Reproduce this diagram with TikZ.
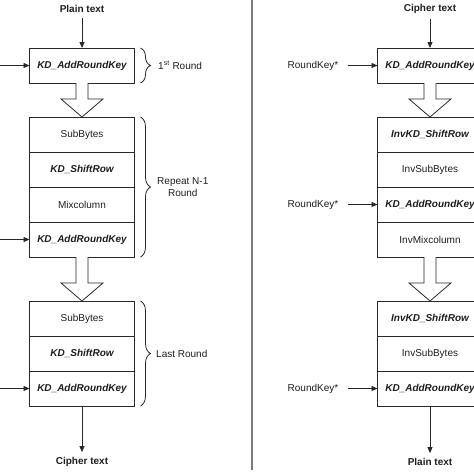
\documentclass[tikz,border=0pt]{standalone}
\usepackage{fontspec}
\setmainfont{Liberation Sans}
\usetikzlibrary{arrows.meta,positioning,calc,decorations.pathreplacing}
\definecolor{aesLine}{RGB}{40,40,40}
\definecolor{aesText}{RGB}{30,30,30}
\definecolor{aesSep}{RGB}{125,125,125}

\begin{document}
\begin{tikzpicture}[x=1pt, y=-1pt,
    stage/.style={rectangle, draw=aesLine, line width=0.8pt, minimum width=105pt,
                  minimum height=35pt, inner sep=0pt, outer sep=0pt,
                  font=\fontsize{10}{12}\selectfont, text=aesText},
    kd/.style={stage, font=\fontsize{10}{12}\selectfont\bfseries\itshape},
    io/.style={font=\fontsize{10}{12}\selectfont\bfseries, text=aesText, inner sep=5pt},
    lbl/.style={font=\fontsize{10}{12}\selectfont, text=aesText, align=center},
    arr/.style={-{Triangle[length=6pt,width=5pt]}, aesLine, line width=0.8pt},
    flow/.style={draw=aesLine, line width=0.8pt, fill=white},
    brc/.style={decorate, decoration={brace, amplitude=10pt}, aesLine, line width=0.8pt}
  ]
  \useasboundingbox (0,0) rectangle (474,474);
  \clip (0,0) rectangle (474,474);

  % encryption
  \node[io] (pt1) at (82,9) {Plain text};
  \node[kd] (a1) at (82,65.5) {KD\_AddRoundKey};
  \node[stage] (a2) at (82,134.5) {SubBytes};
  \node[kd, below=0pt of a2] (a3) {KD\_ShiftRow};
  \node[stage, below=0pt of a3] (a4) {Mixcolumn};
  \node[kd, below=0pt of a4] (a5) {KD\_AddRoundKey};
  \node[stage] (a6) at (82,318.5) {SubBytes};
  \node[kd, below=0pt of a6] (a7) {KD\_ShiftRow};
  \node[kd, below=0pt of a7] (a8) {KD\_AddRoundKey};
  \node[io] (ct1) at (82,462) {Cipher text};

  \coordinate (k1) at (0,65.5);
  \coordinate (k2) at (0,239.5);
  \coordinate (k3) at (0,388.5);
  \draw[arr] (pt1) -- (a1);
  \draw[arr] (k1) -- (a1.west);
  \draw[arr] (k2) -- (a5.west);
  \draw[arr] (k3) -- (a8.west);
  \draw[arr] (a8) -- (ct1);

  \draw[flow] ($(a1.south)+(-6,0)$) -- ($(a2.north)+(-6,-18)$) -- ++(-15,0) -- (a2.north)
     -- ++(21,-18) -- ++(-15,0) -- ($(a1.south)+(6,0)$);
  \draw[flow] ($(a5.south)+(-6,0)$) -- ($(a6.north)+(-6,-18)$) -- ++(-15,0) -- (a6.north)
     -- ++(21,-18) -- ++(-15,0) -- ($(a5.south)+(6,0)$);

  \draw[brc] ([xshift=6pt]a1.north east) -- ([xshift=6pt]a1.south east)
     node[lbl, midway, right=14pt] {1\textsuperscript{st} Round};
  \draw[brc] ([xshift=6pt]a2.north east) -- ([xshift=6pt]a5.south east)
     node[lbl, midway, right=13pt] {Repeat N-1\\Round};
  \draw[brc] ([xshift=6pt]a6.north east) -- ([xshift=6pt]a8.south east)
     node[lbl, midway, right=12pt] {Last Round};

  % separator
  \draw[aesSep, line width=1.5pt] (252,0) -- (252,470);

  % decryption
  \node[io] (ct2) at (430,9) {Cipher text};
  \node[kd] (b1) at (430,65.5) {KD\_AddRoundKey};
  \node[kd] (b2) at (430,134.5) {InvKD\_ShiftRow};
  \node[stage, below=0pt of b2] (b3) {InvSubBytes};
  \node[kd, below=0pt of b3] (b4) {KD\_AddRoundKey};
  \node[stage, below=0pt of b4] (b5) {InvMixcolumn};
  \node[kd] (b6) at (430,318.5) {InvKD\_ShiftRow};
  \node[stage, below=0pt of b6] (b7) {InvSubBytes};
  \node[kd, below=0pt of b7] (b8) {KD\_AddRoundKey};
  \node[io] (pt2) at (430,462) {Plain text};

  \node[lbl] (rk1) at (313,65.5) {RoundKey*};
  \node[lbl] (rk2) at (313,204.5) {RoundKey*};
  \node[lbl] (rk3) at (313,388.5) {RoundKey*};
  \draw[arr] (ct2) -- (b1);
  \draw[arr, shorten <=6pt] (rk1.east) -- (b1.west);
  \draw[arr, shorten <=6pt] (rk2.east) -- (b4.west);
  \draw[arr, shorten <=6pt] (rk3.east) -- (b8.west);
  \draw[arr] (b8) -- (pt2);

  \draw[flow] ($(b1.south)+(-6,0)$) -- ($(b2.north)+(-6,-18)$) -- ++(-15,0) -- (b2.north)
     -- ++(21,-18) -- ++(-15,0) -- ($(b1.south)+(6,0)$);
  \draw[flow] ($(b5.south)+(-6,0)$) -- ($(b6.north)+(-6,-18)$) -- ++(-15,0) -- (b6.north)
     -- ++(21,-18) -- ++(-15,0) -- ($(b5.south)+(6,0)$);
\end{tikzpicture}
\end{document}
